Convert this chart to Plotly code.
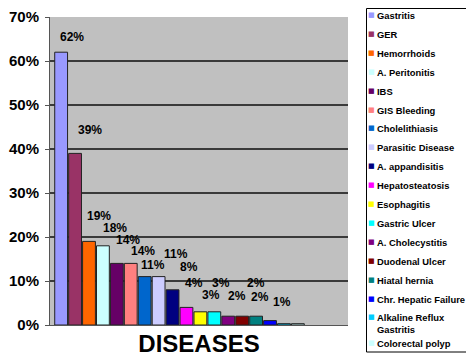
import plotly.graph_objects as go

diseases = ["Gastritis", "GER", "Hemorrhoids", "A. Peritonitis", "IBS", "GIS Bleeding",
            "Cholelithiasis", "Parasitic Disease", "A. appandisitis", "Hepatosteatosis",
            "Esophagitis", "Gastric Ulcer", "A. Cholecystitis", "Duodenal Ulcer",
            "Hiatal hernia", "Chr. Hepatic Failure", "Alkaline Reflux<br>Gastritis",
            "Colorectal polyp"]
percent = [62, 39, 19, 18, 14, 14, 11, 11, 8, 4, 3, 3, 2, 2, 2, 1, 0.3, 0.3]
labels = ["62%", "39%", "19%", "18%", "14%", "14%", "11%", "11%", "8%", "4%", "3%", "3%",
          "2%", "2%", "2%", "1%", "", ""]
colors = ["#9999FF", "#993366", "#FF6600", "#CCFFFF", "#660066", "#FF8080", "#0066CC",
          "#CCCCFF", "#000080", "#FF00FF", "#FFFF00", "#00FFFF", "#800080", "#800000",
          "#008080", "#0000FF", "#00CCFF", "#CCFFFF"]

# label placement style (pixel offsets, as Excel staggered them)
label_lift = [6, 14, 16, 9, 14, 3, 3, 14, 14, 15, 8, 20, 11, 24, 10, 10, 0, 0]
label_dx = [11, 15, 10, 12, 11, 12, 8, 17, 16, 8, 11, 7, 9, 14, 4, 12, 0, 0]

FONT = "Liberation Sans, Arial"
W, H = 474, 359
OFF = 8  # page body margin
ML, MR, MT, MB = 42, 134, 9, 42
PW, PH = W - ML - MR, H - MT - MB


def px_x(vx):
    return (vx - OFF - ML) / PW


def px_y(vy):
    return (H - MB - (vy - OFF)) / PH


fig = go.Figure()
for i, (name, v, c) in enumerate(zip(diseases, percent, colors)):
    fig.add_trace(go.Bar(
        x=[i], y=[v / 100], name=name, width=0.92,
        marker=dict(color=c, line=dict(color="#222222", width=1)),
        hoverinfo="name+y", showlegend=False,
    ))

for i, (v, lab) in enumerate(zip(percent, labels)):
    if lab:
        fig.add_annotation(
            x=i, y=v / 100, text=lab, showarrow=False,
            xanchor="center", yanchor="bottom",
            xshift=label_dx[i], yshift=label_lift[i],
            font=dict(family=FONT, size=12, color="black", weight="bold"),
        )

# legend box (Excel-style, compact markers)
fig.add_shape(type="rect", xref="paper", yref="paper",
              x0=px_x(366.5), x1=px_x(484), y0=px_y(352), y1=px_y(8.5),
              line=dict(color="black", width=1), fillcolor="white", layer="below")
row_y = 15
for name, c in zip(diseases, colors):
    fig.add_annotation(
        xref="paper", yref="paper", x=px_x(366), y=px_y(row_y),
        text="■", showarrow=False, xanchor="left", yanchor="middle",
        font=dict(family="DejaVu Sans", size=7, color=c),
    )
    fig.add_annotation(
        xref="paper", yref="paper", x=px_x(375), y=px_y(row_y - 7),
        text=name, showarrow=False, xanchor="left", yanchor="top", align="left",
        font=dict(family=FONT, size=9.4, color="black", weight="bold"),
    )
    row_y += 18.9 if "<br>" not in name else 26

fig.update_layout(
    width=W, height=H,
    margin=dict(l=ML, r=MR, t=MT, b=MB),
    paper_bgcolor="white",
    plot_bgcolor="#C0C0C0",
    barmode="overlay",
    showlegend=False,
    xaxis=dict(
        range=[-0.8, 20.6], showticklabels=False, showgrid=False, zeroline=False,
        showline=True, linecolor="#555555", linewidth=1, automargin=False,
        title=dict(text="DISEASES", standoff=10,
                   font=dict(family=FONT, size=24, color="black", weight="bold")),
    ),
    yaxis=dict(
        range=[0, 0.70], tickvals=[0, 0.1, 0.2, 0.3, 0.4, 0.5, 0.6, 0.7],
        tickformat=".0%", showgrid=True, gridcolor="#3a3a3a", gridwidth=1.5,
        zeroline=False, showline=True, linecolor="#555555", linewidth=1,
        ticks="outside", ticklen=4, tickcolor="#555555", automargin=False,
        ticklabelstandoff=3,
        tickfont=dict(family=FONT, size=15, color="black", weight="bold"),
    ),
    font=dict(family=FONT),
)

fig.write_html("out.html")
